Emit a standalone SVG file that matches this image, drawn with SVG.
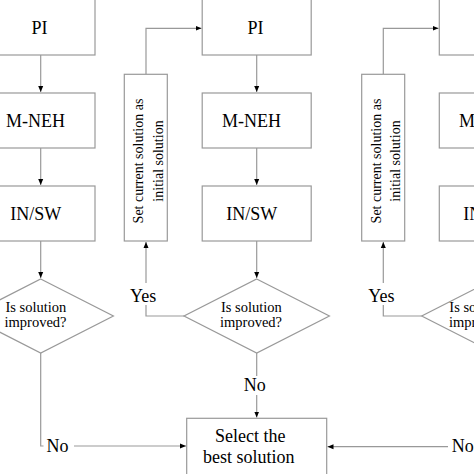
<svg xmlns="http://www.w3.org/2000/svg" width="474" height="474" viewBox="0 0 474 474" font-family="'Liberation Serif', 'DejaVu Serif', serif">
<style>
.b{fill:#fff;stroke:#999;stroke-width:1.2}
.c{fill:none;stroke:#999;stroke-width:1.2}
text{font-family:'Liberation Serif','DejaVu Serif',serif;fill:#000}
.t{font-size:18px}
.s{font-size:14.5px}
.r{font-size:14px}
.m{text-anchor:middle}
</style>
<defs>
<marker id="ah" markerUnits="userSpaceOnUse" markerWidth="7" markerHeight="6" refX="6" refY="3" orient="auto">
<path d="M0,0.5 L6,3 L0,5.5 z" fill="#000"/>
</marker>
</defs>
<rect width="474" height="474" fill="#fff"/>
<g id="connectors">
<line class="c" x1="40.7" y1="55" x2="40.7" y2="92" marker-end="url(#ah)"/>
<line class="c" x1="40.7" y1="148" x2="40.7" y2="185" marker-end="url(#ah)"/>
<line class="c" x1="40.7" y1="241" x2="40.7" y2="278" marker-end="url(#ah)"/>
<polyline class="c" points="40.7,353 40.7,446 43.5,446"/>
<line class="c" x1="74" y1="446" x2="186" y2="446" marker-end="url(#ah)"/>
<line class="c" x1="256.7" y1="55" x2="256.7" y2="92" marker-end="url(#ah)"/>
<line class="c" x1="256.7" y1="148" x2="256.7" y2="185" marker-end="url(#ah)"/>
<line class="c" x1="256.7" y1="241" x2="256.7" y2="278" marker-end="url(#ah)"/>
<line class="c" x1="256.7" y1="353" x2="256.7" y2="376"/>
<line class="c" x1="256.7" y1="395" x2="256.7" y2="417.5" marker-end="url(#ah)"/>
<polyline class="c" points="184,316 146,316 146,305"/>
<line class="c" x1="146" y1="283" x2="146" y2="242" marker-end="url(#ah)"/>
<polyline class="c" points="146,74.3 146,28.3 201.5,28.3" marker-end="url(#ah)"/>
<polyline class="c" points="421.7,316 383.3,316 383.3,305"/>
<line class="c" x1="383.3" y1="283" x2="383.3" y2="242" marker-end="url(#ah)"/>
<polyline class="c" points="383.3,74.3 383.3,28.3 438.5,28.3" marker-end="url(#ah)"/>
<line class="c" x1="448" y1="446.7" x2="327.5" y2="446.7" marker-end="url(#ah)"/>
</g>
<g id="pi-left"><rect class="b" x="-14" y="-2" width="109" height="57"/><text class="t m" x="39.5" y="33.5">PI</text></g>
<g id="mneh-left"><rect class="b" x="-14" y="93" width="109" height="55"/><text class="t m" x="35.5" y="126.7">M-NEH</text></g>
<g id="insw-left"><rect class="b" x="-14" y="186" width="109" height="55"/><text class="t m" x="35.7" y="220">IN/SW</text></g>
<g id="dec-left"><polygon class="b" points="40.7,279 113.4,316 40.7,353 -32,316"/><text class="s" x="5.5" y="311.5">Is solution</text><text class="s" x="4.5" y="326.5">improved?</text></g>
<g id="pi-mid"><rect class="b" x="202.2" y="-2" width="109" height="57"/><text class="t m" x="255.5" y="33.5">PI</text></g>
<g id="mneh-mid"><rect class="b" x="202.2" y="93" width="109" height="55"/><text class="t m" x="251.5" y="126.7">M-NEH</text></g>
<g id="insw-mid"><rect class="b" x="202.2" y="186" width="109" height="55"/><text class="t m" x="251.7" y="220">IN/SW</text></g>
<g id="dec-mid"><polygon class="b" points="256.7,279 329.4,316 256.7,353 184,316"/><text class="s" x="221" y="312.3">Is solution</text><text class="s" x="220" y="327">improved?</text></g>
<g id="set-mid"><rect class="b" x="124.3" y="74.3" width="43" height="166.7"/><text class="r m" transform="translate(143.3,161) rotate(-90)">Set current solution as</text><text class="r m" transform="translate(163,161) rotate(-90)">initial solution</text></g>
<g id="pi-right"><rect class="b" x="439.3" y="-2" width="109" height="57"/></g>
<g id="mneh-right"><rect class="b" x="439.3" y="93" width="109" height="55"/><text class="t m" x="488.5" y="126.7">M-NEH</text></g>
<g id="insw-right"><rect class="b" x="439.3" y="186" width="109" height="55"/><text class="t m" x="488.7" y="220">IN/SW</text></g>
<g id="dec-right"><polygon class="b" points="494.4,279 567,316 494.4,353 421.7,316"/><text class="s" x="449.3" y="312.3">Is solution</text><text class="s" x="449" y="327">improved?</text></g>
<g id="set-right"><rect class="b" x="361.7" y="74.3" width="43" height="166.7"/><text class="r m" transform="translate(380.6,161) rotate(-90)">Set current solution as</text><text class="r m" transform="translate(400.3,161) rotate(-90)">initial solution</text></g>
<g id="select"><rect class="b" x="186.7" y="418.3" width="140" height="70"/><text class="t m" x="250.3" y="441.7">Select the</text><text class="t m" x="248.7" y="463.3">best solution</text></g>
<g id="labels">
<text class="t" x="46.5" y="451.7">No</text>
<text class="t m" x="254.7" y="391">No</text>
<text class="t" x="451.7" y="451.7">No</text>
<text class="t" x="130" y="301.7">Yes</text>
<text class="t" x="368.3" y="301.7">Yes</text>
</g>
</svg>
